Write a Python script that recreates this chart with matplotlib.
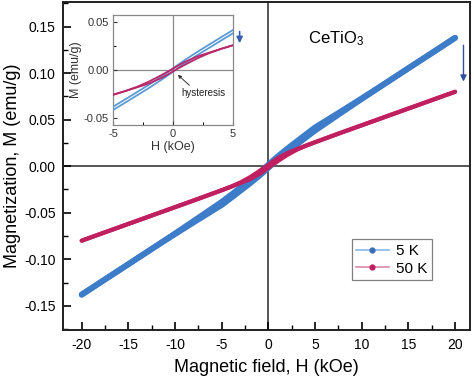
import matplotlib
matplotlib.use("Agg")
import matplotlib.pyplot as plt
from matplotlib.ticker import MultipleLocator
from matplotlib.lines import Line2D

plt.rcParams['font.family'] = ['Liberation Sans', 'DejaVu Sans']
plt.rcParams['mathtext.default'] = 'regular'

# ---- data ----
H = [-20, -17.5, -15, -12.5, -10, -7.5, -5, -4, -3, -2, -1, -0.5, 0,
     0.5, 1, 2, 3, 4, 5, 7.5, 10, 12.5, 15, 17.5, 20]
# 5 K, decreasing-field and increasing-field branches
m5_dec = [-0.138, -0.1216, -0.1053, -0.0889, -0.0723, -0.0554, -0.0383, -0.0307, -0.0230,
          -0.0153, -0.0071, -0.0028, 0.0017, 0.0062, 0.0105, 0.0187, 0.0264, 0.0341,
          0.0417, 0.0572, 0.0729, 0.0889, 0.1053, 0.1216, 0.138]
m5_inc = [-0.138, -0.1216, -0.1053, -0.0889, -0.0729, -0.0572, -0.0417, -0.0341, -0.0264,
          -0.0187, -0.0105, -0.0062, -0.0017, 0.0028, 0.0071, 0.0153, 0.0230, 0.0307,
          0.0383, 0.0554, 0.0723, 0.0889, 0.1053, 0.1216, 0.138]
# 50 K
m50_dec = [-0.080, -0.071, -0.062, -0.053, -0.044, -0.035, -0.0258, -0.0220, -0.0175,
           -0.0120, -0.0055, -0.0021, 0.0015, 0.0051, 0.0085, 0.0140, 0.0181, 0.0220,
           0.0258, 0.035, 0.044, 0.053, 0.062, 0.071, 0.080]
m50_inc = [-0.080, -0.071, -0.062, -0.053, -0.044, -0.035, -0.0258, -0.0220, -0.0181,
           -0.0140, -0.0085, -0.0051, -0.0015, 0.0021, 0.0055, 0.0120, 0.0175, 0.0220,
           0.0258, 0.035, 0.044, 0.053, 0.062, 0.071, 0.080]

series_labels = ['5 K', '50 K']
main_xticks = [-20, -15, -10, -5, 0, 5, 10, 15, 20]
main_yticks = [-0.15, -0.10, -0.05, 0.00, 0.05, 0.10, 0.15]
inset_xticks = [-5, 0, 5]
inset_yticks = [-0.05, 0.00, 0.05]

BLUE = '#3d7cc9'
RED = '#c0205f'

fig = plt.figure(figsize=(4.74, 3.80), dpi=100)
ax = fig.add_axes([0.132, 0.1316, 0.8596, 0.8644])

ax.axhline(0, color='#3a3a3a', lw=1.2, zorder=1)
ax.axvline(0, color='#3a3a3a', lw=1.2, zorder=1)

for m in (m5_dec, m5_inc):
    ax.plot(H, m, color=BLUE, lw=4.2, solid_capstyle='round', solid_joinstyle='round', zorder=3)
for m in (m50_dec, m50_inc):
    ax.plot(H, m, color=RED, lw=3.0, solid_capstyle='round', solid_joinstyle='round', zorder=4)

ax.set_xlim(-22.05, 21.6)
ax.set_ylim(-0.176, 0.177)
ax.set_xticks(main_xticks)
ax.set_yticks(main_yticks)
ax.set_xticklabels([str(v) for v in main_xticks])
ax.set_yticklabels([f'{v:.2f}' for v in main_yticks])
ax.xaxis.set_minor_locator(MultipleLocator(2.5))
ax.yaxis.set_minor_locator(MultipleLocator(0.025))
ax.tick_params(which='major', direction='in', length=6, width=1.2, labelsize=10,
               top=False, right=False, pad=6)
ax.tick_params(axis='y', which='major', pad=5)
ax.tick_params(which='minor', direction='in', length=3.5, width=1.0, top=False, right=False)
for s in ax.spines.values():
    s.set_linewidth(1.4)
    s.set_color('#202020')
ax.set_xlabel('Magnetic field, H (kOe)', fontsize=13, labelpad=5)
ax.set_ylabel('Magnetization, M (emu/g)', fontsize=13, labelpad=2)

ax.text(0.602, 0.888, 'CeTiO$_3$', transform=ax.transAxes, fontsize=12, ha='left', va='center')

ax.annotate('', xy=(20.9, 0.088), xytext=(20.9, 0.133),
            arrowprops=dict(arrowstyle='-|>', color='#2f4f9f', lw=1.0,
                            mutation_scale=9))

handles = [Line2D([0], [0], color='#8ab8e6', lw=1.2, marker='o', markersize=3.5,
                  markerfacecolor='#3a6fb5', markeredgecolor='#3a6fb5'),
           Line2D([0], [0], color='#d98aaa', lw=1.2, marker='o', markersize=3.5,
                  markerfacecolor=RED, markeredgecolor=RED)]
leg = ax.legend(handles, series_labels, loc='upper left', bbox_to_anchor=(0.710, 0.276),
                fontsize=11, frameon=True, fancybox=False, framealpha=1, edgecolor='#808080',
                handlelength=2.1, handletextpad=0.5, borderpad=0.3, labelspacing=0.25,
                borderaxespad=0)
leg.get_frame().set_linewidth(0.9)

# ---- inset ----
ins = fig.add_axes([0.2384, 0.671, 0.2532, 0.2895])
ins.axhline(0, color='#8a8a8a', lw=0.9, zorder=1)
ins.axvline(0, color='#8a8a8a', lw=0.9, zorder=1)
for m in (m5_dec, m5_inc):
    ins.plot(H, m, color='#5b9bd5', lw=1.3, zorder=3)
for m in (m50_dec, m50_inc):
    ins.plot(H, m, color='#b8286a', lw=1.3, zorder=4)
ins.set_xlim(-5, 5)
ins.set_ylim(-0.0573, 0.0573)
ins.set_xticks(inset_xticks)
ins.set_yticks(inset_yticks)
ins.set_xticklabels([str(v) for v in inset_xticks])
ins.set_yticklabels([f'{v:.2f}' for v in inset_yticks])
ins.xaxis.set_minor_locator(MultipleLocator(2.5))
ins.yaxis.set_minor_locator(MultipleLocator(0.025))
ins.tick_params(which='major', direction='in', length=3, width=0.8, labelsize=8,
                colors='#333333', pad=3)
ins.tick_params(which='minor', direction='in', length=2, width=0.7)
for s in ins.spines.values():
    s.set_linewidth(0.9)
    s.set_color('#888888')
ins.set_xlabel('H (kOe)', fontsize=9, labelpad=1, color='#333333')
ins.set_ylabel('M (emu/g)', fontsize=9, labelpad=1, color='#333333')
ins.annotate('hysteresis', xy=(0.4, -0.005), xytext=(0.7, -0.024), fontsize=7,
             color='#222222', va='center', ha='left',
             arrowprops=dict(arrowstyle='-|>', color='#333333', lw=0.7,
                             mutation_scale=5, shrinkA=0, shrinkB=0,
                             relpos=(0.25, 1.0)))
ins.annotate('', xy=(5.55, 0.025), xytext=(5.55, 0.043), annotation_clip=False,
             arrowprops=dict(arrowstyle='-|>', color='#3a5fb0', lw=1.2,
                             mutation_scale=9))

fig.savefig('out.png', dpi=100)
